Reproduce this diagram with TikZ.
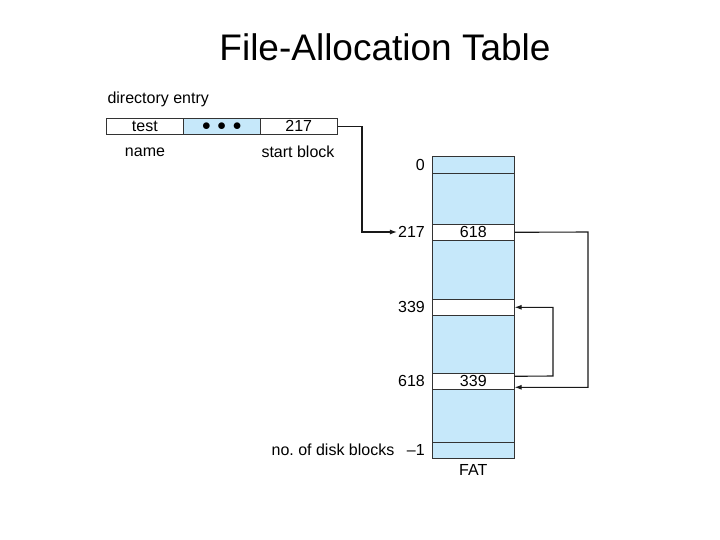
\documentclass[tikz,border=0pt]{standalone}
\usepackage{fontspec}
\setmainfont{Liberation Sans}
\usetikzlibrary{arrows.meta,positioning}
\definecolor{fatblue}{RGB}{198,232,250}
\begin{document}
\begin{tikzpicture}[x=1pt,y=-1pt,font=\fontsize{16}{18}\selectfont]
  \tikzstyle{cell}=[rectangle,draw=black!80,semithick,minimum width=82pt,inner sep=0pt,anchor=north west]
  \tikzstyle{entry}=[rectangle,draw=black!80,semithick,minimum width=77pt,minimum height=16pt,inner sep=0pt,anchor=north west]
  \tikzstyle{lbl}=[anchor=east,inner sep=1pt]
  \tikzstyle{link}=[-{Latex[length=7pt,width=5pt]},line width=1.1pt,black!90]
  \useasboundingbox (0,0) rectangle (720,540);

  \node (title) at (385,47) {\fontsize{37}{42}\selectfont File-Allocation Table};

  % directory entry
  \node[anchor=west] (dirlbl) at (104,99) {directory entry};
  \node[entry] (name) at (106,118) {test};
  \node[entry,fill=fatblue] (dots) at (183,118) {$\bullet\,\bullet\,\bullet$};
  \node[entry] (start) at (260,118) {217};
  \node (namelbl) at (145,152) {name};
  \node (startlbl) at (298,152) {start block};

  % FAT
  \node[cell,fill=fatblue,minimum height=302pt] (fat) at (432,156) {};
  \node[cell,fill=fatblue,minimum height=17pt] (c0) at (432,156) {};
  \node[cell,fill=white,minimum height=16pt] (c217) at (432,224) {618};
  \node[cell,fill=white,minimum height=16pt] (c339) at (432,299) {};
  \node[cell,fill=white,minimum height=16pt] (c618) at (432,373) {339};
  \node[cell,fill=fatblue,minimum height=16pt] (cend) at (432,442) {};
  \node[below=2pt of fat] (fatlbl) {FAT};

  \node[lbl] (l0) at (426,165) {0};
  \node[lbl] (l217) at (426,232) {217};
  \node[lbl] (l339) at (426,307) {339};
  \node[lbl] (l618) at (426,381) {618};
  \node[lbl] (lend) at (426,450) {no.\ of disk blocks\hspace{10pt}\,–1};

  % links
  \draw[link] (start.east) -| (362,232) -- (l217.west);
  \draw[link] (c217.east) -- (588,232) |- ([yshift=-6pt]c618.east);
  \draw[link] ([yshift=5pt]c618.east) -- (553,376) |- (c339.east);
\end{tikzpicture}
\end{document}
